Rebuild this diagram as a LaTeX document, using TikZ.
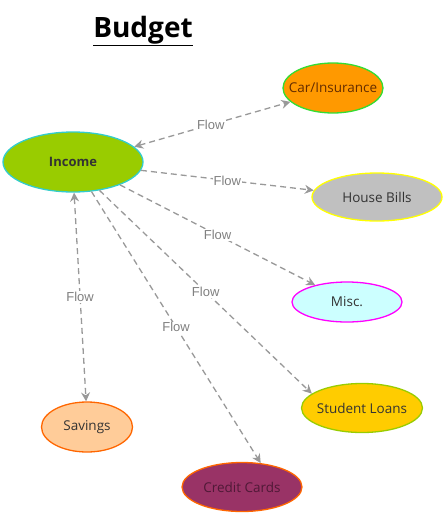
\documentclass[tikz,border=0pt]{standalone}
\usepackage{fontspec}
\setmainfont{Open Sans}
\newfontfamily\flowfont{Liberation Sans}
\usetikzlibrary{shapes.geometric,arrows.meta}
\definecolor{incfill}{HTML}{99CC00}
\definecolor{incdraw}{HTML}{33CCCC}
\definecolor{carfill}{HTML}{FF9900}
\definecolor{cardraw}{HTML}{33DD33}
\definecolor{housefill}{HTML}{C0C0C0}
\definecolor{housedraw}{HTML}{FFFF00}
\definecolor{miscfill}{HTML}{CCFFFF}
\definecolor{miscdraw}{HTML}{FF00FF}
\definecolor{loanfill}{HTML}{FFCC00}
\definecolor{loandraw}{HTML}{99CC00}
\definecolor{savfill}{HTML}{FFCC99}
\definecolor{savdraw}{HTML}{FF6600}
\definecolor{ccfill}{HTML}{993366}
\definecolor{ccdraw}{HTML}{FF6600}
\definecolor{flowgray}{HTML}{999999}
\definecolor{labgray}{HTML}{808080}
\tikzset{
  oval/.style={ellipse, inner sep=0pt, line width=1.3pt, font=\fontsize{13.5}{16}\selectfont, text=black!80},
  flow/.style={draw=flowgray, line width=1.3pt, dash pattern=on 6pt off 4pt, -{Stealth[length=9pt,width=9pt,inset=3pt]}},
  flowboth/.style={flow, {Stealth[length=9pt,width=9pt,inset=3pt]}-{Stealth[length=9pt,width=9pt,inset=3pt]}},
  lab/.style={fill=white, inner sep=1pt, text=labgray, font=\flowfont\fontsize{13}{15}\selectfont}
}
\begin{document}
\begin{tikzpicture}[x=1pt,y=-1pt]
\useasboundingbox (0,0) rectangle (444,514);
\node (title) at (143,31) {\bfseries\fontsize{28}{32}\selectfont\underline{Budget}};
\node[oval, fill=incfill, draw=incdraw, minimum width=140pt, minimum height=60pt, font=\bfseries\fontsize{13}{15}\selectfont] (inc) at (73,162) {Income};
\node[oval, fill=carfill, draw=cardraw, minimum width=100pt, minimum height=50pt, inner xsep=-9.5pt, text={rgb,255:red,100;green,45;blue,0}] (car) at (333,88) {Car/Insurance};
\node[oval, fill=housefill, draw=housedraw, minimum width=130pt, minimum height=48pt] (house) at (377,197) {House Bills};
\node[oval, fill=miscfill, draw=miscdraw, minimum width=110pt, minimum height=40pt] (misc) at (347,302) {Misc.};
\node[oval, fill=loanfill, draw=loandraw, minimum width=121pt, minimum height=49pt, inner xsep=-4pt] (loan) at (362,408) {Student Loans};
\node[oval, fill=savfill, draw=savdraw, minimum width=91pt, minimum height=50pt] (sav) at (87,427) {Savings};
\node[oval, fill=ccfill, draw=ccdraw, minimum width=120pt, minimum height=49pt, text={rgb,255:red,80;green,25;blue,55}] (cc) at (242,487) {Credit Cards};
\draw[flowboth] (inc.14) -- node[lab, pos=0.49] {Flow} (car.198);
\draw[flow] (inc.-7) -- node[lab, pos=0.5] {Flow} (house.174);
\draw[flow] (inc.-26) -- node[lab, pos=0.5] {Flow} (misc.152);
\draw[flow] (inc.-47) -- node[lab, pos=0.5] {Flow} (loan.164);
\draw[flow] (inc.-58) -- node[lab, pos=0.5] {Flow} (cc.52);
\draw[flowboth] (inc.-88) -- node[lab, pos=0.5] {Flow} (sav.92);
\end{tikzpicture}
\end{document}
